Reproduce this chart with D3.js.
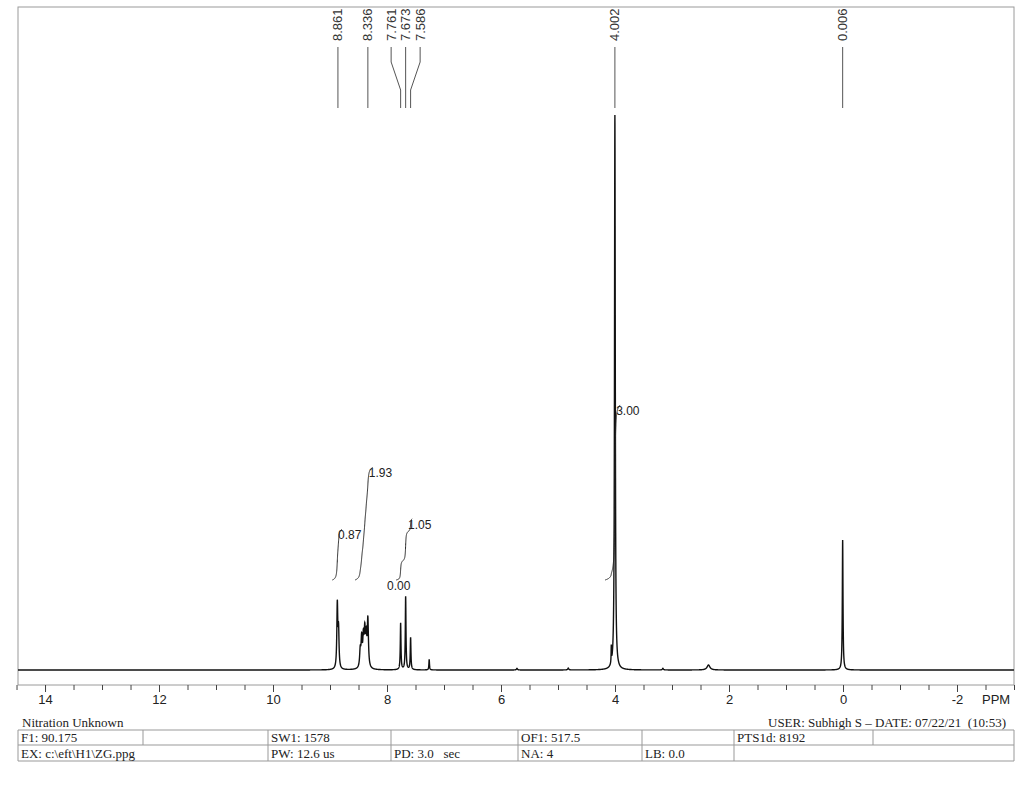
<!DOCTYPE html>
<html lang="en">
<head>
    <meta charset="UTF-8">
    <title>Nitration Unknown - 1H NMR</title>
    <script src="https://cdn.jsdelivr.net/npm/d3@7"></script>
    <style>
        body, html {
            margin: 0;
            padding: 0;
            background: #fff;
        }
        svg { display: block; }
        .sans { font-family: "Liberation Sans", Arial, sans-serif; }
        .serif { font-family: "Liberation Serif", "Times New Roman", serif; }
    </style>
</head>
<body>
<div id="chart"></div>
<script>
// ---- data ----
const majorTicks = [14, 12, 10, 8, 6, 4, 2, 0, -2];
const minorTicks = d3.range(-3, 14.51, 0.5);

// peaks: position (ppm), height (4.002 singlet = 100), half width (ppm)
const peakPpm    = [8.872, 8.850, 8.470, 8.445, 8.415, 8.390, 8.365, 8.336, 7.761, 7.673, 7.586, 7.260, 5.720, 4.820, 4.065, 4.002, 3.160, 2.360, 0.006];
const peakHeight = [11.5,  6.5,   3.0,   5.0,   5.0,   6.0,   5.0,   8.5,   8.4,   13.2,  5.8,   1.9,   0.3,   0.35,  3.0,   100,   0.3,   0.9,   23.4];
const peakWidth  = [0.010, 0.010, 0.012, 0.012, 0.012, 0.012, 0.012, 0.012, 0.007, 0.007, 0.007, 0.006, 0.010, 0.010, 0.004, 0.008, 0.010, 0.030, 0.007];

// picked peak labels (top)
const peakLabels = [8.861, 8.336, 7.761, 7.673, 7.586, 4.002, 0.006];

// integrals
const integralFrom   = [8.96, 8.56, 8.00, 7.84, 4.175];
const integralTo     = [8.79, 8.25, 7.93, 7.56, 3.91];
const integralValues = [0.87, 1.93, 0.00, 1.05, 3.00];

// parameter table under the plot
const titleText = "Nitration Unknown";
const userText = "USER: Subhigh S \u2013 DATE: 07/22/21  (10:53)";
const row1Cells = ["F1: 90.175", "", "SW1: 1578", "", "OF1: 517.5", "", "PTS1d: 8192", ""];
const row2Cells = ["EX: c:\\eft\\H1\\ZG.ppg", "PW: 12.6 us", "PD: 3.0   sec", "NA: 4", "LB: 0.0", ""];
const row1Cols = [18, 143, 268, 391, 518, 642, 734, 873, 1014];
const row2Cols = [18, 268, 391, 518, 642, 734, 1014];

// ---- layout ----
const W = 1024, H = 791;
const frame = { left: 18, top: 7, right: 1014, bottom: 685 };

const svg = d3.select("#chart").append("svg")
    .attr("width", W)
    .attr("height", H);

const x = d3.scaleLinear()
    .domain([14.474, -3.0])
    .range([frame.left, frame.right]);
const y = d3.scaleLinear()
    .domain([0, 100])
    .range([670, 115]);
const yInt = d3.scaleLinear()
    .domain([0, 3])
    .range([580, 405]);

svg.append("defs").append("clipPath").attr("id", "plotClip")
    .append("rect")
    .attr("x", frame.left).attr("y", frame.top)
    .attr("width", frame.right - frame.left)
    .attr("height", frame.bottom - frame.top);

// frame
svg.append("rect")
    .attr("x", frame.left).attr("y", frame.top)
    .attr("width", frame.right - frame.left)
    .attr("height", frame.bottom - frame.top)
    .attr("fill", "none")
    .attr("stroke", "#9a9a9a")
    .attr("stroke-width", 1);

// spectrum as sum of lorentzian lines
function intensity(ppm) {
    let s = 0;
    for (let i = 0; i < peakPpm.length; i++) {
        const d = ppm - peakPpm[i], w = peakWidth[i];
        s += peakHeight[i] * w * w / (d * d + w * w);
    }
    return s;
}
const grid = d3.range(14.474, -3.0, -0.001);
const spectrum = grid.map(p => [p, intensity(p)]);

svg.append("path")
    .datum(spectrum)
    .attr("clip-path", "url(#plotClip)")
    .attr("fill", "none")
    .attr("stroke", "#111")
    .attr("stroke-width", 1.4)
    .attr("d", d3.line().x(d => x(d[0])).y(d => y(d[1])));

// integral curves
const g = svg.append("g");
integralValues.forEach((val, i) => {
    const pts = d3.range(integralFrom[i], integralTo[i] - 0.0001, -0.001);
    let cum = 0;
    const raw = pts.map(p => { cum += intensity(p); return [p, cum]; });
    const total = cum || 1;
    const curve = raw.map(d => [d[0], d[1] / total * val]);
    if (val > 0) {
        g.append("path")
            .datum(curve)
            .attr("fill", "none")
            .attr("stroke", "#222")
            .attr("stroke-width", 1)
            .attr("d", d3.line().x(d => x(d[0])).y(d => yInt(d[1])));
    }
    g.append("text")
        .attr("class", "sans")
        .attr("x", x(integralTo[i]) - 4)
        .attr("y", yInt(val) + 10)
        .attr("font-size", 12)
        .attr("fill", "#222")
        .text(val.toFixed(2));
});

// peak labels, spread apart where they crowd
const gap = 14.5;
const sorted = peakLabels.slice().sort((a, b) => b - a);
let groups = [];
sorted.forEach(p => {
    groups.push({ items: [p] });
    while (groups.length > 1) {
        const b = groups[groups.length - 1], a = groups[groups.length - 2];
        const lay = grp => {
            const c = d3.mean(grp.items, v => x(v));
            return c - (grp.items.length - 1) * gap / 2;
        };
        const aEnd = lay(a) + (a.items.length - 1) * gap;
        if (aEnd + gap > lay(b)) {
            a.items = a.items.concat(b.items);
            groups.pop();
        } else break;
    }
});
const labelPos = [];
groups.forEach(grp => {
    const c = d3.mean(grp.items, v => x(v));
    const s = c - (grp.items.length - 1) * gap / 2;
    grp.items.forEach((p, k) => labelPos.push({ ppm: p, lx: s + k * gap }));
});

const pl = svg.append("g");
pl.selectAll("path")
    .data(labelPos)
    .enter().append("path")
    .attr("fill", "none")
    .attr("stroke", "#555")
    .attr("stroke-width", 1)
    .attr("d", d => `M${d.lx},47 L${d.lx},62 L${x(d.ppm)},90 L${x(d.ppm)},108`);
pl.selectAll("text")
    .data(labelPos)
    .enter().append("text")
    .attr("class", "sans")
    .attr("transform", d => `translate(${d.lx},41) rotate(-90)`)
    .attr("dy", "0.35em")
    .attr("font-size", 13)
    .attr("fill", "#333")
    .text(d => d.ppm.toFixed(3));

// x axis
const axisG = svg.append("g")
    .attr("transform", `translate(0,${frame.bottom})`);
axisG.append("g")
    .call(d3.axisBottom(x).tickValues(minorTicks).tickSize(5).tickFormat(""))
    .call(s => s.select(".domain").remove());
axisG.append("g")
    .call(d3.axisBottom(x).tickValues(majorTicks).tickSize(7).tickPadding(3).tickFormat(d => String(d)))
    .call(s => s.select(".domain").remove())
    .call(s => s.selectAll("text")
        .attr("class", "sans")
        .attr("font-size", 13)
        .attr("font-family", null)
        .attr("fill", "#222"));
axisG.selectAll(".tick line").attr("stroke", "#444");
svg.append("text")
    .attr("class", "sans")
    .attr("x", 982)
    .attr("y", 704)
    .attr("font-size", 13)
    .attr("fill", "#222")
    .text("PPM");

// parameter table
const tbl = svg.append("g").attr("class", "serif");
const rowY = [730, 745, 761];
tbl.append("text")
    .attr("x", 22).attr("y", 727)
    .attr("font-size", 13).attr("fill", "#222")
    .text(titleText);
tbl.append("text")
    .attr("x", 1006).attr("y", 727)
    .attr("text-anchor", "end")
    .attr("font-size", 13).attr("fill", "#222")
    .style("white-space", "pre")
    .text(userText);

rowY.forEach(yy => {
    tbl.append("line")
        .attr("x1", 18).attr("x2", 1014)
        .attr("y1", yy).attr("y2", yy)
        .attr("stroke", "#999");
});
function drawRow(cols, cells, y0, y1) {
    cols.forEach(cx => {
        tbl.append("line")
            .attr("x1", cx).attr("x2", cx)
            .attr("y1", y0).attr("y2", y1)
            .attr("stroke", "#999");
    });
    cells.forEach((t, i) => {
        if (!t) return;
        tbl.append("text")
            .attr("x", cols[i] + 3)
            .attr("y", y1 - 3)
            .attr("font-size", 13)
            .attr("fill", "#222")
            .style("white-space", "pre")
            .text(t);
    });
}
drawRow(row1Cols, row1Cells, rowY[0], rowY[1]);
drawRow(row2Cols, row2Cells, rowY[1], rowY[2]);
</script>
</body>
</html>
